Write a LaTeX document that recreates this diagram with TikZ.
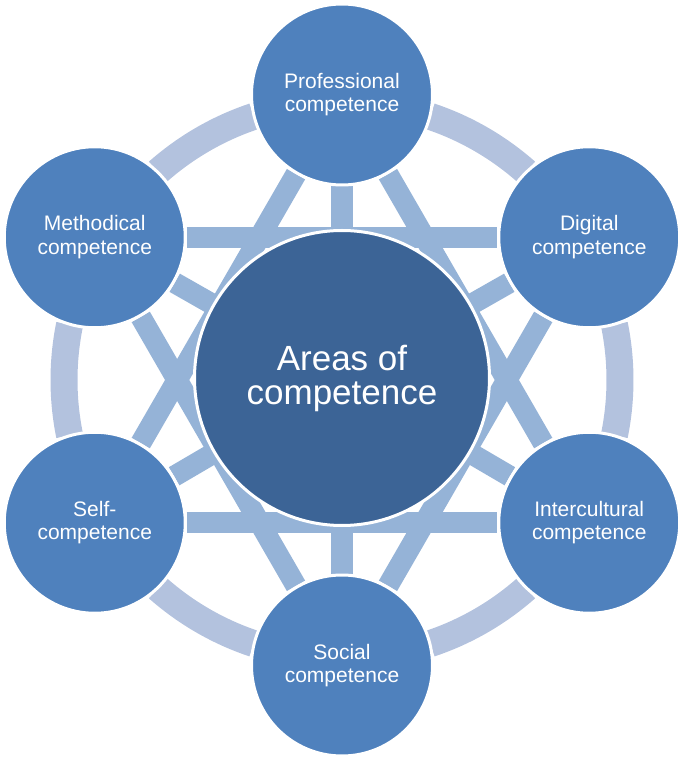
\documentclass[tikz,border=0pt]{standalone}
\usepackage{fontspec}
\setmainfont{Liberation Sans}
\usepackage{xcolor}
\definecolor{rimc}{HTML}{B3C2DE}
\definecolor{linkc}{HTML}{95B3D7}
\definecolor{areac}{HTML}{4F81BD}
\definecolor{hubc}{HTML}{3C6496}
\usetikzlibrary{backgrounds}
\tikzset{
  area/.style={circle,fill=areac,draw=white,line width=3pt,minimum size=181pt,inner sep=0pt,text=white,align=center,font=\fontsize{21}{23.5}\selectfont},
  hub/.style={area,fill=hubc,minimum size=295pt,font=\fontsize{35}{34}\selectfont},
  spoke/.style={draw=linkc,line width=21pt},
  rim/.style={draw=rimc,line width=27pt},
}

\begin{document}
\begin{tikzpicture}[x=1pt,y=1pt]
\useasboundingbox (-342,-380) rectangle (343,380);
\node[hub] (hub) at (0,2) {Areas of\\competence};
\node[area] (prof) at (90:285.5) {Professional\\competence};
\node[area] (dig) at (30:285.5) {Digital\\competence};
\node[area] (inter) at (-30:285.5) {Intercultural\\competence};
\node[area] (soc) at (-90:285.5) {Social\\competence};
\node[area] (self) at (-150:285.5) {Self-\\competence};
\node[area] (meth) at (150:285.5) {Methodical\\competence};
\begin{scope}[on background layer]
% outer ring, one piece between each pair of neighbours
\foreach \a in {90,30,-30,-90,-150,150}
  \draw[rim] (\a-18.5:278) arc[start angle=\a-18.5,end angle=\a-41.5,radius=278];
% the two triangles and the spokes
\foreach \u/\v in {prof/self,self/inter,inter/prof,meth/dig,dig/soc,soc/meth} \draw[spoke] (\u)--(\v);
\foreach \v in {prof,dig,inter,soc,self,meth} \draw[spoke] (hub)--(\v);
\end{scope}
\end{tikzpicture}
\end{document}
